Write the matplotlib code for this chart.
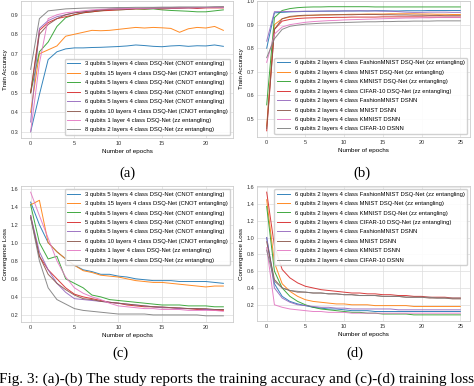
import numpy as np
import matplotlib.pyplot as plt
from matplotlib.ticker import MultipleLocator

# panel (a) / (c): qubit / layer configurations, epochs 0..22
labels_ac = [
    "3 qubits 5 layers 4 class DSQ-Net (CNOT entangling)",
    "3 qubits 15 layers 4 class DSQ-Net (CNOT entangling)",
    "4 qubits 5 layers 4 class DSQ-Net (CNOT entangling)",
    "5 qubits 5 layers 4 class DSQ-Net (CNOT entangling)",
    "6 qubits 5 layers 4 class DSQ-Net (CNOT entangling)",
    "6 qubits 10 layers 4 class DSQ-Net (CNOT entangling)",
    "4 qubits 1 layer 4 class DSQ-Net (zz entangling)",
    "8 qubits 2 layers 4 class DSQ-Net (zz entangling)",
]
acc_a = [
    [0.30, 0.49, 0.67, 0.71, 0.725, 0.73, 0.73, 0.732, 0.733, 0.735, 0.737, 0.74, 0.745, 0.742, 0.738, 0.736, 0.74, 0.742, 0.738, 0.741, 0.74, 0.745, 0.738],
    [0.40, 0.70, 0.72, 0.74, 0.79, 0.80, 0.81, 0.82, 0.818, 0.82, 0.825, 0.83, 0.835, 0.832, 0.835, 0.833, 0.83, 0.81, 0.828, 0.835, 0.832, 0.84, 0.82],
    [0.50, 0.71, 0.76, 0.84, 0.885, 0.90, 0.91, 0.915, 0.92, 0.925, 0.925, 0.927, 0.93, 0.928, 0.93, 0.925, 0.922, 0.92, 0.918, 0.915, 0.915, 0.92, 0.925],
    [0.50, 0.82, 0.86, 0.88, 0.89, 0.90, 0.91, 0.915, 0.92, 0.922, 0.925, 0.927, 0.93, 0.93, 0.932, 0.93, 0.932, 0.933, 0.935, 0.932, 0.935, 0.935, 0.935],
    [0.35, 0.83, 0.87, 0.89, 0.90, 0.91, 0.915, 0.92, 0.925, 0.928, 0.93, 0.93, 0.932, 0.932, 0.933, 0.935, 0.935, 0.935, 0.936, 0.936, 0.937, 0.938, 0.938],
    [0.50, 0.80, 0.85, 0.88, 0.90, 0.91, 0.915, 0.92, 0.925, 0.928, 0.93, 0.93, 0.932, 0.933, 0.934, 0.934, 0.935, 0.936, 0.936, 0.937, 0.937, 0.938, 0.94],
    [0.30, 0.65, 0.88, 0.90, 0.91, 0.915, 0.92, 0.925, 0.928, 0.93, 0.93, 0.932, 0.933, 0.933, 0.934, 0.935, 0.935, 0.936, 0.936, 0.937, 0.937, 0.938, 0.938],
    [0.62, 0.88, 0.92, 0.925, 0.93, 0.932, 0.934, 0.935, 0.936, 0.936, 0.937, 0.937, 0.938, 0.938, 0.938, 0.939, 0.939, 0.94, 0.94, 0.94, 0.94, 0.941, 0.941],
]
loss_c = [
    [1.45, 1.20, 1.00, 0.90, 0.82, 0.75, 0.70, 0.68, 0.65, 0.65, 0.63, 0.62, 0.60, 0.59, 0.58, 0.58, 0.58, 0.57, 0.57, 0.57, 0.57, 0.56, 0.55],
    [1.42, 1.47, 1.00, 0.90, 0.82, 0.75, 0.69, 0.67, 0.64, 0.63, 0.62, 0.60, 0.58, 0.57, 0.56, 0.56, 0.55, 0.54, 0.53, 0.52, 0.51, 0.52, 0.52],
    [1.42, 1.00, 0.82, 0.85, 0.60, 0.55, 0.50, 0.42, 0.40, 0.37, 0.36, 0.35, 0.34, 0.33, 0.32, 0.31, 0.31, 0.31, 0.30, 0.30, 0.30, 0.29, 0.29],
    [1.30, 0.85, 0.70, 0.60, 0.50, 0.43, 0.40, 0.38, 0.36, 0.34, 0.33, 0.31, 0.30, 0.29, 0.29, 0.28, 0.28, 0.27, 0.27, 0.26, 0.26, 0.25, 0.25],
    [1.30, 0.90, 0.70, 0.55, 0.45, 0.38, 0.37, 0.36, 0.35, 0.34, 0.33, 0.32, 0.31, 0.30, 0.29, 0.28, 0.28, 0.27, 0.27, 0.27, 0.26, 0.26, 0.26],
    [1.28, 0.85, 0.65, 0.55, 0.48, 0.42, 0.38, 0.37, 0.35, 0.34, 0.33, 0.32, 0.31, 0.30, 0.29, 0.29, 0.28, 0.28, 0.27, 0.27, 0.27, 0.26, 0.26],
    [1.56, 1.30, 1.05, 0.80, 0.62, 0.50, 0.44, 0.40, 0.37, 0.33, 0.30, 0.29, 0.28, 0.27, 0.27, 0.26, 0.26, 0.26, 0.25, 0.25, 0.25, 0.25, 0.24],
    [1.28, 0.80, 0.50, 0.37, 0.32, 0.27, 0.25, 0.24, 0.23, 0.22, 0.21, 0.21, 0.21, 0.21, 0.20, 0.20, 0.20, 0.20, 0.20, 0.20, 0.19, 0.19, 0.19],
]

# panel (b) / (d): datasets, epochs 0..25
labels_bd = [
    "6 qubits 2 layers 4 class FashionMNIST DSQ-Net (zz entangling)",
    "6 qubits 2 layers 4 class MNIST DSQ-Net (zz entangling)",
    "6 qubits 2 layers 4 class KMNIST DSQ-Net (zz entangling)",
    "6 qubits 2 layers 4 class CIFAR-10 DSQ-Net (zz entangling)",
    "6 qubits 2 layers 4 class FashionMNIST DSNN",
    "6 qubits 2 layers 4 class MNIST DSNN",
    "6 qubits 2 layers 4 class KMNIST DSNN",
    "6 qubits 2 layers 4 class CIFAR-10 DSNN",
]
acc_b = [
    [0.80, 0.95, 0.952, 0.954, 0.955, 0.956, 0.956, 0.957, 0.957, 0.957, 0.958, 0.958, 0.958, 0.958, 0.959, 0.959, 0.958, 0.958, 0.959, 0.959, 0.959, 0.96, 0.96, 0.96, 0.96, 0.96],
    [0.47, 0.90, 0.925, 0.932, 0.936, 0.938, 0.94, 0.941, 0.942, 0.942, 0.943, 0.944, 0.944, 0.945, 0.945, 0.945, 0.946, 0.946, 0.946, 0.946, 0.945, 0.945, 0.944, 0.944, 0.943, 0.943],
    [0.56, 0.93, 0.96, 0.968, 0.972, 0.974, 0.975, 0.975, 0.976, 0.976, 0.976, 0.976, 0.976, 0.976, 0.975, 0.975, 0.975, 0.975, 0.975, 0.975, 0.975, 0.975, 0.975, 0.975, 0.975, 0.975],
    [0.45, 0.88, 0.915, 0.922, 0.926, 0.928, 0.929, 0.93, 0.93, 0.931, 0.931, 0.932, 0.932, 0.932, 0.932, 0.933, 0.933, 0.933, 0.933, 0.933, 0.933, 0.932, 0.932, 0.932, 0.932, 0.932],
    [0.83, 0.955, 0.955, 0.956, 0.956, 0.957, 0.957, 0.957, 0.958, 0.958, 0.958, 0.958, 0.959, 0.958, 0.958, 0.957, 0.957, 0.955, 0.953, 0.952, 0.952, 0.953, 0.953, 0.953, 0.952, 0.952],
    [0.46, 0.88, 0.925, 0.935, 0.938, 0.94, 0.94, 0.941, 0.941, 0.942, 0.942, 0.942, 0.943, 0.943, 0.943, 0.942, 0.942, 0.941, 0.941, 0.94, 0.94, 0.939, 0.939, 0.938, 0.938, 0.938],
    [0.74, 0.86, 0.89, 0.90, 0.905, 0.91, 0.913, 0.915, 0.917, 0.918, 0.92, 0.921, 0.922, 0.923, 0.924, 0.925, 0.926, 0.927, 0.928, 0.928, 0.929, 0.929, 0.93, 0.93, 0.93, 0.93],
    [0.76, 0.84, 0.88, 0.893, 0.898, 0.902, 0.904, 0.906, 0.907, 0.908, 0.909, 0.91, 0.911, 0.912, 0.912, 0.913, 0.913, 0.914, 0.914, 0.915, 0.915, 0.915, 0.916, 0.916, 0.916, 0.916],
]
loss_d = [
    [1.00, 0.45, 0.30, 0.24, 0.21, 0.19, 0.17, 0.16, 0.15, 0.15, 0.14, 0.13, 0.13, 0.13, 0.12, 0.12, 0.12, 0.12, 0.12, 0.12, 0.12, 0.12, 0.12, 0.12, 0.12, 0.12],
    [1.45, 0.70, 0.45, 0.36, 0.30, 0.26, 0.24, 0.23, 0.22, 0.21, 0.21, 0.20, 0.20, 0.20, 0.19, 0.19, 0.19, 0.19, 0.19, 0.18, 0.18, 0.18, 0.18, 0.18, 0.18, 0.18],
    [1.37, 0.60, 0.40, 0.30, 0.24, 0.20, 0.17, 0.15, 0.14, 0.13, 0.12, 0.11, 0.11, 0.10, 0.10, 0.09, 0.09, 0.09, 0.09, 0.08, 0.08, 0.08, 0.08, 0.08, 0.08, 0.08],
    [1.54, 0.90, 0.62, 0.52, 0.46, 0.42, 0.40, 0.38, 0.37, 0.36, 0.35, 0.34, 0.34, 0.33, 0.33, 0.32, 0.32, 0.31, 0.31, 0.30, 0.30, 0.29, 0.29, 0.29, 0.28, 0.28],
    [1.00, 0.40, 0.28, 0.23, 0.20, 0.19, 0.18, 0.17, 0.17, 0.16, 0.16, 0.15, 0.15, 0.15, 0.15, 0.15, 0.15, 0.14, 0.14, 0.14, 0.14, 0.14, 0.14, 0.14, 0.14, 0.14],
    [0.95, 0.50, 0.40, 0.37, 0.35, 0.35, 0.34, 0.34, 0.33, 0.33, 0.32, 0.32, 0.31, 0.31, 0.31, 0.30, 0.30, 0.30, 0.29, 0.29, 0.29, 0.28, 0.28, 0.28, 0.27, 0.27],
    [0.88, 0.20, 0.17, 0.15, 0.14, 0.13, 0.12, 0.12, 0.11, 0.11, 0.11, 0.10, 0.10, 0.10, 0.10, 0.10, 0.10, 0.10, 0.10, 0.10, 0.10, 0.10, 0.10, 0.10, 0.10, 0.10],
    [0.85, 0.48, 0.40, 0.37, 0.36, 0.35, 0.34, 0.34, 0.33, 0.33, 0.32, 0.32, 0.31, 0.31, 0.31, 0.30, 0.30, 0.30, 0.29, 0.29, 0.29, 0.29, 0.28, 0.28, 0.28, 0.28],
]

colors = plt.get_cmap("tab10").colors

plt.rcParams["font.family"] = "Liberation Sans"
plt.rcParams["axes.edgecolor"] = "#cccccc"
plt.rcParams["axes.linewidth"] = 0.6

fig = plt.figure(figsize=(4.74, 3.86), dpi=100)
W, H = 474, 386


def px_axes(x0, y0, x1, y1):
    return fig.add_axes([x0 / W, 1 - y1 / H, (x1 - x0) / W, (y1 - y0) / H])


def draw(ax, series, labels, ylabel, step, loc):
    for i, (vals, lab) in enumerate(zip(series, labels)):
        ax.plot(np.arange(len(vals)), vals, color=colors[i], lw=0.7, label=lab, alpha=0.9)
    ax.grid(True, color="#dddddd", lw=0.5)
    ax.set_axisbelow(True)
    ax.xaxis.set_major_locator(MultipleLocator(5))
    ax.yaxis.set_major_locator(MultipleLocator(step))
    ax.yaxis.set_major_formatter(plt.FormatStrFormatter("%.1f"))
    ax.tick_params(length=0, labelsize=4, pad=2, labelcolor="#333333")
    ax.set_xlabel("Number of epochs", fontsize=4.5, labelpad=2)
    ax.set_ylabel(ylabel, fontsize=4.5, labelpad=2)
    ax.legend(fontsize=4.2, loc=loc, frameon=True,
              edgecolor="#cccccc", fancybox=True, framealpha=0.9,
              handlelength=2.2, labelspacing=0.75, borderpad=0.45,
              borderaxespad=0.5)


ax_a = px_axes(21, 0.5, 233, 138)
draw(ax_a, acc_a, labels_ac, "Train Accuracy", 0.1, "lower right")

ax_b = px_axes(257, 0.5, 470, 137)
draw(ax_b, acc_b, labels_bd, "Train Accuracy", 0.1, "lower right")

ax_c = px_axes(21, 186, 233, 322)
draw(ax_c, loss_c, labels_ac, "Convergence Loss", 0.2, "upper right")

ax_d = px_axes(257, 186, 470, 321)
draw(ax_d, loss_d, labels_bd, "Convergence Loss", 0.2, "upper right")

serif = "Liberation Serif"
for lab, x, y in [("(a)", 127, 173), ("(b)", 362, 173), ("(c)", 120, 353), ("(d)", 355, 353)]:
    fig.text(x / W, 1 - y / H, lab, family=serif, fontsize=10.5, ha="center", va="center")

fig.text(-0.002, 1 - 383 / H,
         "Fig. 3: (a)-(b) The study reports the training accuracy and (c)-(d) training loss",
         family=serif, fontsize=11, ha="left", va="baseline")

fig.savefig("out.png", dpi=100)
